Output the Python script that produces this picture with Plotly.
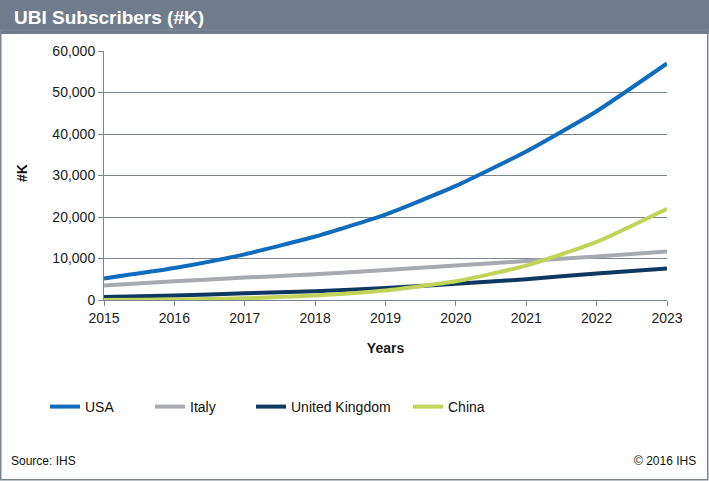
import plotly.graph_objects as go

# data
years = [2015, 2016, 2017, 2018, 2019, 2020, 2021, 2022, 2023]
usa = [5200, 7700, 11000, 15300, 20600, 27500, 35800, 45500, 57000]
italy = [3500, 4500, 5400, 6200, 7200, 8300, 9400, 10500, 11700]
uk = [700, 1100, 1600, 2100, 2900, 3900, 5000, 6400, 7600]
china = [0, 100, 400, 1100, 2300, 4500, 8300, 14000, 22000]

series_names = ['USA', 'Italy', 'United Kingdom', 'China']
series_values = [usa, italy, uk, china]
colors = ['#0f6cbd', '#a5abb1', '#10375f', '#c2d35a']

W, H = 709, 481
L, R, T, B = 104, 42, 51, 181
pw, ph = W - L - R, H - T - B


def px_x(x):  # pixel -> paper x
    return (x - L) / pw


def px_y(y):  # pixel -> paper y
    return (H - B - y) / ph


base = 'Liberation Sans, Arial, sans-serif'

fig = go.Figure()

legend_x = [45, 150, 251, 408]
for i, (name, vals, col) in enumerate(zip(series_names, series_values, colors)):
    lg = 'legend' if i == 0 else f'legend{i + 1}'
    fig.add_trace(go.Scatter(
        x=years, y=vals, name=name, mode='lines',
        line=dict(color=col, width=4, shape='spline', smoothing=0.5),
        legend=lg,
    ))

legends = {}
for i, lx in enumerate(legend_x):
    key = 'legend' if i == 0 else f'legend{i + 1}'
    legends[key] = dict(
        x=lx / W, y=1 - 407 / H, xref='container', yref='container',
        xanchor='left', yanchor='middle', bgcolor='rgba(0,0,0,0)',
        font=dict(family=base, size=14, color='#111'),
        itemwidth=30,
    )

fig.update_layout(
    width=W, height=H,
    margin=dict(l=L, r=R, t=T, b=B, autoexpand=False),
    paper_bgcolor='white', plot_bgcolor='white',
    font=dict(family=base, size=14, color='#1a1a1a'),
    showlegend=True,
    **legends,
    shapes=[
        # header band
        dict(type='rect', xref='paper', yref='paper', layer='below',
             x0=px_x(0), x1=px_x(W), y0=px_y(34), y1=px_y(0),
             fillcolor='#707c8b', line=dict(width=0)),
        # outer border
        dict(type='rect', xref='paper', yref='paper', layer='below',
             x0=px_x(0.75), x1=px_x(W - 1.25), y0=px_y(H - 1.25), y1=px_y(30),
             fillcolor='rgba(0,0,0,0)', line=dict(color='#7a8592', width=1.5)),
    ],
    annotations=[
        dict(text='<b>UBI Subscribers (#K)</b>', xref='paper', yref='paper',
             x=px_x(12), y=px_y(18), xanchor='left', yanchor='middle', showarrow=False,
             font=dict(size=19, color='white')),
        dict(text='<b>#K</b>', xref='paper', yref='paper', textangle=-90,
             x=px_x(22), y=px_y(173), xanchor='center', yanchor='middle', showarrow=False,
             font=dict(size=14, color='#111')),
        dict(text='Source: IHS', xref='paper', yref='paper',
             x=px_x(9), y=px_y(461), xanchor='left', yanchor='middle', showarrow=False,
             font=dict(family=base, size=12, color='#111')),
        dict(text='© 2016 IHS', xref='paper', yref='paper',
             x=px_x(698), y=px_y(461), xanchor='right', yanchor='middle', showarrow=False,
             font=dict(family=base, size=12, color='#111')),
    ],
)

fig.update_xaxes(
    range=[2015, 2023], tickmode='array', tickvals=years, ticktext=[str(y) for y in years],
    showgrid=False, showline=True, linecolor='#7a8592', linewidth=1,
    ticks='outside', ticklen=5, tickcolor='#7a8592', zeroline=False,
    tickfont=dict(size=14),
    title=dict(text='<b>Years</b>', standoff=18, font=dict(size=14)),
)
fig.update_yaxes(
    range=[0, 60000], dtick=10000, tickformat=',d',
    showgrid=True, gridcolor='#7a8592', gridwidth=1,
    showline=True, linecolor='#7a8592', linewidth=1,
    ticks='outside', ticklen=5, tickcolor='#7a8592', zeroline=False,
    tickfont=dict(size=14),
)

fig.write_html('out.html', config={'displayModeBar': False},
               post_script="document.body.style.margin='0';")
